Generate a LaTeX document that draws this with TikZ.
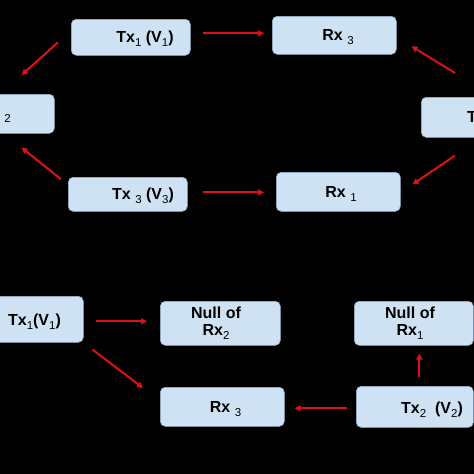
\documentclass[tikz,border=0pt]{standalone}
\usepackage{fontspec}
\setmainfont{Liberation Sans}
\usetikzlibrary{arrows.meta}
\definecolor{boxfill}{RGB}{207,226,243}
\definecolor{boxline}{RGB}{150,178,212}
\definecolor{arrred}{RGB}{222,18,22}
\newcommand{\lowsub}[1]{\raisebox{-4pt}{\fontsize{11.5}{11.5}\selectfont\mdseries #1}}
\tikzset{
  box/.style={draw=boxline, fill=boxfill, line width=0.6pt, rounded corners=5pt,
              inner sep=0pt, anchor=north west},
  txt/.style={font=\fontsize{16}{17}\selectfont\bfseries, text=black, inner sep=0pt, align=center},
  arr/.style={draw=arrred, line width=2pt, -{Triangle[length=6pt,width=6pt]}},
}
\begin{document}
\begin{tikzpicture}[x=1pt,y=-1pt]
\fill[black] (0,0) rectangle (474,474);
\useasboundingbox (0,0) rectangle (474,474);
% top diagram boxes
\node[box, minimum width=119pt, minimum height=36pt] (tx1) at (71,19) {};
\node[box, minimum width=124pt, minimum height=38pt] (rx3t) at (272,16) {};
\node[box, minimum width=120pt, minimum height=39pt] (l2) at (-66,94) {};
\node[box, minimum width=120pt, minimum height=40pt] (r2) at (421,97) {};
\node[box, minimum width=119pt, minimum height=34pt] (tx3) at (68,177) {};
\node[box, minimum width=124pt, minimum height=39pt] (rx1) at (276,172) {};
% top texts
\node[txt, anchor=base] (tx1t) at (145,42) {Tx\lowsub{1} (V\lowsub{1})};
\node[txt, anchor=base] (rx3tt) at (338,40) {Rx \lowsub{3}};
\node[txt, anchor=base east] (l2t) at (11,118) {Rx \lowsub{2}};
\node[txt, anchor=base west] (r2t) at (467,122) {Tx\lowsub{2} (V\lowsub{2})};
\node[txt, anchor=base] (tx3t) at (143,199) {Tx \lowsub{3} (V\lowsub{3})};
\node[txt, anchor=base] (rx1t) at (341,197) {Rx \lowsub{1}};
% top arrows
\draw[arr] ([shift={(-13,5)}]tx1.west) -- ([shift={(-33,-19)}]l2.north east);
\draw[arr] ([shift={(-7,-15)}]tx3.west) -- ([shift={(-33,14)}]l2.south east);
\draw[arr] ([shift={(12,-4)}]tx1.east) -- ([shift={(-8,-2)}]rx3t.west);
\draw[arr] ([shift={(34,-24)}]r2.north west) -- ([shift={(15,11)}]rx3t.east);
\draw[arr] ([shift={(34,18)}]r2.south west) -- ([shift={(12,-7.5)}]rx1.east);
\draw[arr] ([shift={(15,-2)}]tx3.east) -- ([shift={(-12,0.5)}]rx1.west);
% bottom diagram boxes
\node[box, minimum width=120pt, minimum height=46pt] (btx1) at (-37,296) {};
\node[box, minimum width=120pt, minimum height=44pt] (null2) at (160,301) {};
\node[box, minimum width=124pt, minimum height=39pt] (brx3) at (160,387) {};
\node[box, minimum width=119pt, minimum height=44pt] (null1) at (354,301) {};
\node[box, minimum width=117pt, minimum height=41pt] (tx2) at (356,386) {};
% bottom texts
\node[txt, anchor=base] (btx1t) at (34.5,325) {Tx\lowsub{1}(V\lowsub{1})};
\node[txt, anchor=base] (null2t) at (216,335) {Null of\\[0pt]Rx\lowsub{2}};
\node[txt, anchor=base] (brx3t) at (225.5,412) {Rx \lowsub{3}};
\node[txt, anchor=base] (null1t) at (410,335) {Null of\\[0pt]Rx\lowsub{1}};
\node[txt, anchor=base] (tx2t) at (432,413) {Tx\lowsub{2}\ \ (V\lowsub{2})};
% bottom arrows
\draw[arr] ([shift={(12,2)}]btx1.east) -- ([shift={(-13,-2)}]null2.west);
\draw[arr] ([shift={(9,7)}]btx1.south east) -- ([shift={(-17,1)}]brx3.north west);
\draw[arr] ([shift={(4.5,-9)}]tx2.north) -- ([shift={(5.5,8)}]null1.south);
\draw[arr] ([shift={(-9,1.5)}]tx2.west) -- ([shift={(10,1.5)}]brx3.east);
\end{tikzpicture}
\end{document}
